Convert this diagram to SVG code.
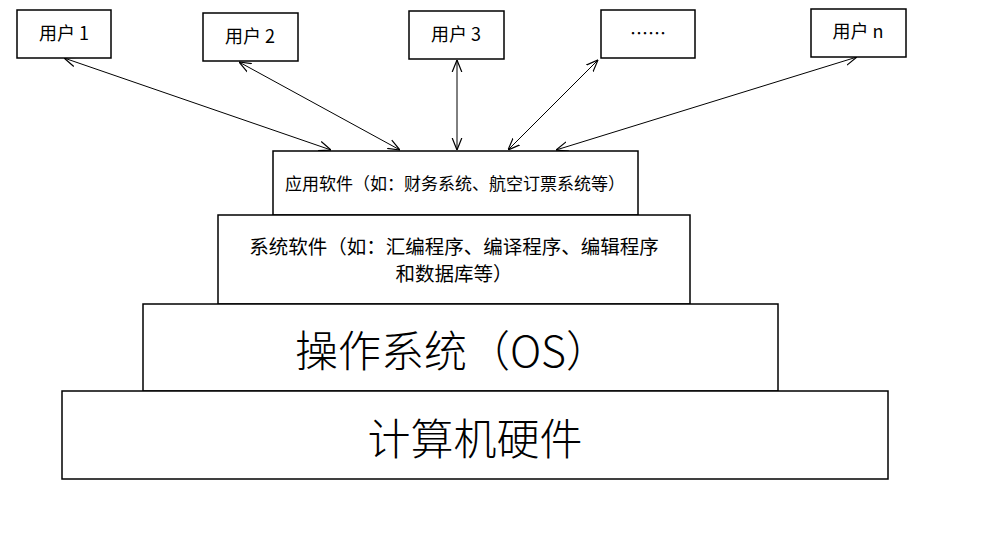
<svg xmlns="http://www.w3.org/2000/svg" width="997" height="545" viewBox="0 0 997 545">
<style>
rect{fill:#fff;stroke:#000;stroke-width:1.5}
text{font-family:"Noto Sans CJK SC",sans-serif;fill:#000;text-anchor:middle}
.s{font-size:18px}
.m{font-size:17px}
.y{font-size:19.5px}
.l{font-size:43px;font-weight:300}
line{stroke:#000;stroke-width:1;marker-start:url(#a);marker-end:url(#a)}
</style>
<defs><marker id="a" viewBox="0 0 10 10" refX="10" refY="5" markerWidth="12" markerHeight="12" orient="auto-start-reverse" markerUnits="userSpaceOnUse"><path d="M0,1 L10,5 L0,9" fill="none" stroke="#000"/></marker></defs>
<rect x="0" y="0" width="997" height="545" style="stroke:none"/>
<g id="connectors">
<line x1="64" y1="58" x2="331" y2="150"/>
<line x1="239" y1="62" x2="400" y2="150"/>
<line x1="457" y1="60" x2="457" y2="150"/>
<line x1="598" y1="60" x2="508" y2="150"/>
<line x1="857" y1="57" x2="556" y2="150"/>
</g>
<g id="u1"><rect x="17" y="10" width="94" height="48"/><text class="s" x="64" y="40">用户 1</text></g>
<g id="u2"><rect x="203" y="13" width="95" height="48"/><text class="s" x="250" y="43">用户 2</text></g>
<g id="u3"><rect x="409" y="11" width="95" height="48"/><text class="s" x="456" y="41">用户 3</text></g>
<g id="u4"><rect x="601" y="10" width="94" height="48"/><text class="s" x="648" y="40">……</text></g>
<g id="un"><rect x="811" y="9" width="95" height="48"/><text class="s" x="858" y="38">用户 n</text></g>
<g id="app"><rect x="273" y="151" width="365" height="64"/><text class="m" x="455" y="190">应用软件（如：财务系统、航空订票系统等）</text></g>
<g id="sys"><rect x="218" y="215" width="472" height="89"/><text class="y" x="454" y="254">系统软件（如：汇编程序、编译程序、编辑程序</text><text class="y" x="454" y="281">和数据库等）</text></g>
<g id="os"><rect x="143" y="304" width="635" height="87"/><text class="l" x="452" y="367">操作系统（OS）</text></g>
<g id="hw"><rect x="62" y="391" width="826" height="88"/><text class="l" x="475" y="455">计算机硬件</text></g>
</svg>
